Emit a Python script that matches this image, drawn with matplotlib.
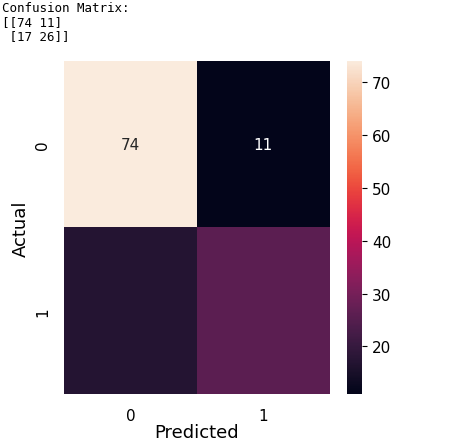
import matplotlib
matplotlib.use("Agg")
import matplotlib.pyplot as plt
import numpy as np
import seaborn as sns

cm = np.array([[74, 11], [17, 26]])
labels = ["0", "1"]
# only the top row got annotated in the original output
annot_text = np.array([["74", "11"], ["", ""]])

fig = plt.figure(figsize=(4.74, 4.39), dpi=100)
ax = fig.add_axes([0.135, 0.100, 0.561, 0.759])
cax = fig.add_axes([0.732, 0.100, 0.032, 0.759])

sns.heatmap(cm, annot=annot_text, fmt="", cmap="rocket", ax=ax, cbar_ax=cax,
            xticklabels=labels, yticklabels=labels,
            annot_kws={"fontsize": 11})
ax.set_xlabel("Predicted", fontsize=13, labelpad=0)
ax.set_ylabel("Actual", fontsize=13)
ax.tick_params(labelsize=11, length=0, pad=10)
cax.tick_params(labelsize=11)

fig.text(0.005, 0.995, "Confusion Matrix:\n[[74 11]\n [17 26]]",
         family="DejaVu Sans Mono", fontsize=9, va="top", ha="left",
         linespacing=1.1)

fig.savefig("out.png", dpi=100)
